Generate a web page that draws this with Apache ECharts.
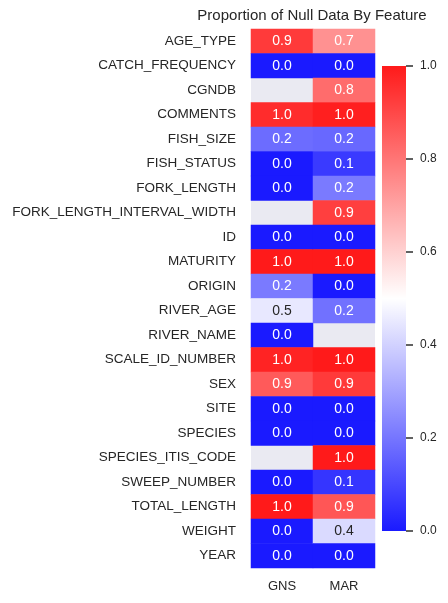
<!DOCTYPE html>
<html>
<head>
<meta charset="utf-8">
<script src="https://cdn.jsdelivr.net/npm/echarts@6/dist/echarts.min.js"></script>
<style>
html,body{margin:0;padding:0;background:#fff;}
#chart{width:448px;height:603px;}
</style>
</head>
<body>
<div id="chart"></div>
<script>
const features = ['AGE_TYPE','CATCH_FREQUENCY','CGNDB','COMMENTS','FISH_SIZE','FISH_STATUS','FORK_LENGTH','FORK_LENGTH_INTERVAL_WIDTH','ID','MATURITY','ORIGIN','RIVER_AGE','RIVER_NAME','SCALE_ID_NUMBER','SEX','SITE','SPECIES','SPECIES_ITIS_CODE','SWEEP_NUMBER','TOTAL_LENGTH','WEIGHT','YEAR'];
const sources = ['GNS','MAR'];
const gns = [0.93, 0.0, null, 0.96, 0.18, 0.0, 0.0, null, 0.0, 1.0, 0.21, 0.45, 0.0, 0.98, 0.86, 0.0, 0.0, null, 0.0, 1.0, 0.0, 0.0];
const mar = [0.74, 0.0, 0.82, 0.99, 0.17, 0.07, 0.21, 0.92, 0.0, 1.0, 0.0, 0.19, null, 1.0, 0.93, 0.0, 0.0, 1.0, 0.06, 0.87, 0.42, 0.0];
const colorbarTicks = [0, 0.2, 0.4, 0.6, 0.8, 1.0];
const cmap = ['#1a1aff', '#ffffff', '#ff1a1a'];

const FONT = "'Liberation Sans', Arial, sans-serif";
const TEXT = '#262626';

function labelColor(v) {
  return (v > 0.318 && v < 0.732) ? TEXT : '#ffffff';
}

const cols = [gns, mar];
const data = [];
cols.forEach((arr, xi) => {
  arr.forEach((v, yi) => {
    if (v === null) return;
    data.push({ value: [xi, yi, v], label: { color: labelColor(v) } });
  });
});

const barGradient = new echarts.graphic.LinearGradient(0, 0, 0, 1, [
  { offset: 0, color: cmap[2] },
  { offset: 0.5, color: cmap[1] },
  { offset: 1, color: cmap[0] }
]);

const chart = echarts.init(document.getElementById('chart'), null, { renderer: 'canvas' });
chart.setOption({
  animation: false,
  backgroundColor: '#ffffff',
  textStyle: { fontFamily: FONT },
  title: {
    text: 'Proportion of Null Data By Feature',
    left: 312, top: 8, padding: 0, textAlign: 'center',
    textStyle: { fontFamily: FONT, fontSize: 15, fontWeight: 'normal', color: TEXT }
  },
  grid: [
    { left: 251, top: 29, width: 124, height: 539, show: true, backgroundColor: '#eaeaf2', borderWidth: 0, containLabel: false },
    { left: 382, top: 66, width: 24, height: 465, show: true, backgroundColor: barGradient, borderWidth: 0, containLabel: false }
  ],
  xAxis: [
    { type: 'category', data: sources, gridIndex: 0, position: 'bottom',
      axisLine: { show: false }, axisTick: { show: false }, splitLine: { show: false },
      axisLabel: { fontFamily: FONT, fontSize: 13, color: TEXT, margin: 12 } },
    { type: 'value', gridIndex: 1, show: false, min: -1, max: 0 }
  ],
  yAxis: [
    { type: 'category', data: features, gridIndex: 0, inverse: true,
      axisLine: { show: false }, axisTick: { show: false }, splitLine: { show: false },
      axisLabel: { fontFamily: FONT, fontSize: 13.5, color: TEXT, margin: 15 } },
    { type: 'value', gridIndex: 1, position: 'right', min: 0, max: 1, interval: 0.2,
      axisLine: { show: false, onZero: false },
      splitLine: { show: false },
      axisTick: { show: false },
      axisLabel: { fontFamily: FONT, fontSize: 12, color: TEXT, margin: 14,
        formatter: v => colorbarTicks.some(t => Math.abs(t - v) < 1e-9) ? v.toFixed(1) : '' } }
  ],
  visualMap: {
    type: 'continuous', min: 0, max: 1, seriesIndex: 0, show: false,
    inRange: { color: cmap }
  },
  series: [
    { type: 'heatmap', xAxisIndex: 0, yAxisIndex: 0, data: data,
      label: { show: true, fontFamily: FONT, fontSize: 14,
        formatter: p => p.value[2].toFixed(1) },
      itemStyle: { borderWidth: 0 },
      emphasis: { disabled: true } },
    { type: 'scatter', xAxisIndex: 1, yAxisIndex: 1, silent: true, data: [], symbolSize: 0 }
  ]
});

// colorbar tick marks, positioned through the colorbar axis scale
const tickMarks = colorbarTicks.map(t => {
  const p = chart.convertToPixel({ gridIndex: 1 }, [0, t]);
  return {
    type: 'line', z: 100, silent: true,
    shape: { x1: p[0], y1: p[1], x2: p[0] + 7, y2: p[1] },
    style: { stroke: '#3a3a3a', lineWidth: 1.6 }
  };
});
chart.setOption({ graphic: tickMarks });
</script>
</body>
</html>
